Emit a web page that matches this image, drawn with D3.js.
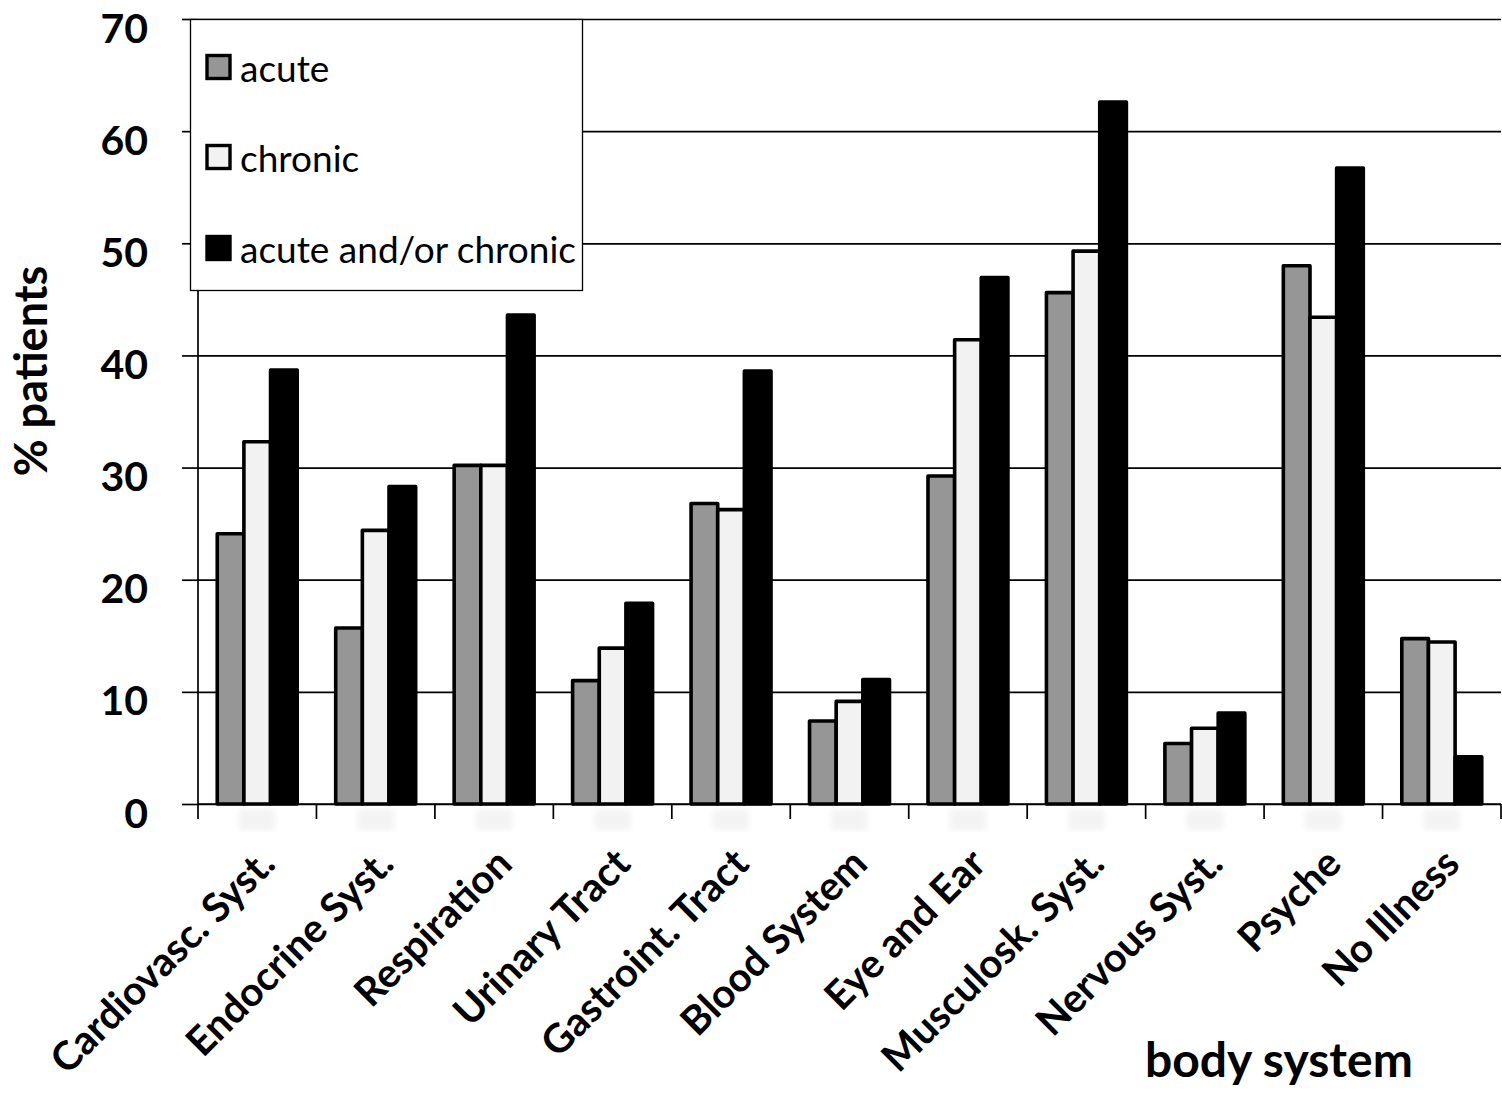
<!DOCTYPE html>
<html>
<head>
<meta charset="utf-8">
<script src="https://cdn.jsdelivr.net/npm/d3@7"></script>
<style>
  html, body { margin: 0; padding: 0; background: #fff; }
  svg { display: block; }
</style>
</head>
<body>
<svg id="chart" width="1502" height="1095"></svg>
<script>
const categories = ["Cardiovasc. Syst.", "Endocrine Syst.", "Respiration", "Urinary Tract", "Gastroint. Tract", "Blood System", "Eye and Ear", "Musculosk. Syst.", "Nervous Syst.", "Psyche", "No Illness"];
const seriesNames = ["acute", "chronic", "acute and/or chronic"];
const acute   = [24.1, 15.7, 30.2, 11.0, 26.8, 7.4, 29.25, 45.6, 5.4, 48.0, 14.75];
const chronic = [32.3, 24.4, 30.2, 13.9, 26.25, 9.15, 41.4, 49.3, 6.75, 43.4, 14.45];
const both    = [38.7, 28.3, 43.6, 17.9, 38.6, 11.1, 46.95, 62.6, 8.1, 56.7, 4.2];
const yTicks  = [0, 10, 20, 30, 40, 50, 60, 70];
const colors  = ["#969696", "#f2f2f2", "#000000"];

const seriesValues = [acute, chronic, both];
const svg = d3.select("#chart");
const FONT = "Lato, 'Open Sans', sans-serif";

const x0 = d3.scaleBand().domain(categories).range([198, 1501]).padding(0);
const bw = x0.bandwidth();
const groupW = bw * 0.675;
const x1 = d3.scaleBand().domain(seriesNames).range([(bw - groupW) / 2, (bw + groupW) / 2]).padding(0);
const y = d3.scaleLinear().domain([0, 70]).range([804, 19]);

// faint shadows under x axis
const defs = svg.append("defs");
defs.append("filter").attr("id", "blur").append("feGaussianBlur").attr("stdDeviation", 3);
svg.append("g").selectAll("rect").data(categories).join("rect")
  .attr("x", d => x0(d) + bw / 2 - 18).attr("y", 810)
  .attr("width", 36).attr("height", 20)
  .attr("fill", "#f3f3f3").attr("filter", "url(#blur)");

// gridlines + y ticks
const yAxis = d3.axisLeft(y).tickValues(yTicks).tickSize(16).tickFormat("");
const gy = svg.append("g").attr("transform", "translate(198,0)").call(yAxis);
gy.select(".domain").remove();
gy.selectAll(".tick line").attr("stroke", "#000").attr("stroke-width", 1.7);
gy.selectAll(".tick").append("line")
  .attr("x1", 0).attr("x2", 1501 - 198)
  .attr("stroke", "#000").attr("stroke-width", 1.7);

// y tick labels
svg.append("g").selectAll("text").data(yTicks).join("text")
  .attr("x", 148).attr("y", d => y(d) + 8)
  .attr("text-anchor", "end").attr("dominant-baseline", "central")
  .attr("font-family", FONT).attr("font-weight", "bold").attr("font-size", 41)
  .text(d => d);

// y axis line
svg.append("line").attr("x1", 198).attr("x2", 198).attr("y1", y(70)).attr("y2", y(0))
  .attr("stroke", "#000").attr("stroke-width", 1.7);

// x axis with ticks at band boundaries
const xTickPos = categories.map(c => x0(c)).concat([x0.range()[1]]);
svg.append("line").attr("x1", 198).attr("x2", 1501).attr("y1", y(0)).attr("y2", y(0))
  .attr("stroke", "#000").attr("stroke-width", 1.7);
svg.append("g").selectAll("line").data(xTickPos).join("line")
  .attr("x1", d => d).attr("x2", d => d).attr("y1", y(0)).attr("y2", y(0) + 15)
  .attr("stroke", "#000").attr("stroke-width", 1.7);

// bars
const groups = svg.append("g").selectAll("g").data(categories).join("g")
  .attr("transform", d => `translate(${x0(d)},0)`);
groups.selectAll("rect").data((c, i) => seriesNames.map((s, k) => ({ s, k, v: seriesValues[k][i] })))
  .join("rect")
  .attr("x", d => x1(d.s)).attr("width", x1.bandwidth())
  .attr("y", d => y(d.v)).attr("height", d => y(0) - y(d.v))
  .attr("fill", d => colors[d.k]).attr("stroke", "#000").attr("stroke-width", 3.6)
  .attr("stroke-linejoin", "round");

// x labels
svg.append("g").selectAll("text").data(categories).join("text")
  .attr("transform", d => `translate(${x0(d) + bw / 2 + 20},866) rotate(-45)`)
  .attr("text-anchor", "end")
  .attr("font-family", FONT).attr("font-weight", "bold").attr("font-size", 40)
  .text(d => d);

// axis titles
svg.append("text").attr("transform", "translate(47,371) rotate(-90)")
  .attr("text-anchor", "middle")
  .attr("font-family", FONT).attr("font-weight", "bold").attr("font-size", 45)
  .text("% patients");
svg.append("text").attr("x", 1145).attr("y", 1077)
  .attr("font-family", FONT).attr("font-weight", "bold").attr("font-size", 48)
  .text("body system");

// legend
const lg = svg.append("g");
lg.append("rect").attr("x", 190.5).attr("y", 19.5).attr("width", 392).attr("height", 271)
  .attr("fill", "#fff").attr("stroke", "#000").attr("stroke-width", 1.3);
const legendY = [67, 157, 248];
const items = lg.selectAll("g.item").data(seriesNames).join("g").attr("class", "item")
  .attr("transform", (d, i) => `translate(0,${legendY[i]})`);
items.append("rect").attr("x", 207).attr("y", -11.5).attr("width", 23).attr("height", 23)
  .attr("fill", (d, i) => colors[i]).attr("stroke", "#000").attr("stroke-width", 3.4);
items.append("text").attr("x", 240).attr("y", 0).attr("dominant-baseline", "central")
  .attr("font-family", FONT).attr("font-size", 37)
  .text(d => d);
</script>
</body>
</html>
